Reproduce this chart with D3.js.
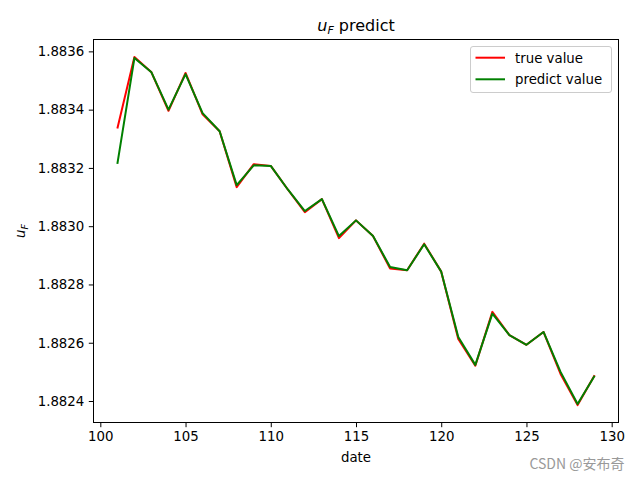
<!DOCTYPE html>
<html>
<head>
<meta charset="utf-8">
<script src="https://cdn.jsdelivr.net/npm/d3@7"></script>
<style>
  body { margin: 0; background: #fff; }
  svg { display: block; font-family: "DejaVu Sans", sans-serif; }
</style>
</head>
<body>
<div class="displayArea"></div>
<script>
// data
const dates = d3.range(101, 130);
const trueValue = [
  1.883335, 1.883581, 1.883528, 1.883396, 1.883526, 1.883384, 1.883326, 1.883134,
  1.883213, 1.883207, 1.883126, 1.883048, 1.883093, 1.882959, 1.883020, 1.882966,
  1.882855, 1.882849, 1.882940, 1.882844, 1.882613, 1.882521, 1.882706, 1.882626,
  1.882593, 1.882637, 1.882493, 1.882386, 1.882488
];
const predictValue = [
  1.883214, 1.883577, 1.883528, 1.883400, 1.883522, 1.883388, 1.883326, 1.883141,
  1.883209, 1.883207, 1.883126, 1.883052, 1.883093, 1.882966, 1.883020, 1.882966,
  1.882860, 1.882849, 1.882938, 1.882844, 1.882620, 1.882524, 1.882700, 1.882626,
  1.882593, 1.882637, 1.882500, 1.882390, 1.882487
];
const xTicks = [100, 105, 110, 115, 120, 125, 130];
const yTicks = [1.8824, 1.8826, 1.8828, 1.8830, 1.8832, 1.8834, 1.8836];

const W = 640, H = 480;
const axLeft = 93.5, axTop = 39.5, axRight = 618.5, axBottom = 422.5;

// matplotlib style 5% padding
function padded(ext) {
  const m = (ext[1] - ext[0]) * 0.05;
  return [ext[0] - m, ext[1] + m];
}
const allY = trueValue.concat(predictValue);

const xScale = d3.scaleLinear().domain(padded(d3.extent(dates))).range([axLeft, axRight]);
const yScale = d3.scaleLinear().domain(padded(d3.extent(allY))).range([axBottom, axTop]);

const svg = d3.select(".displayArea").append("svg")
  .attr("width", W).attr("height", H);

svg.append("rect").attr("width", W).attr("height", H).attr("fill", "#fff");

const line = d3.line()
  .x((d, i) => xScale(dates[i]))
  .y(d => yScale(d));

svg.append("path").datum(trueValue)
  .attr("fill", "none").attr("stroke", "#ff0000").attr("stroke-width", 2)
  .attr("stroke-linejoin", "round").attr("d", line);
svg.append("path").datum(predictValue)
  .attr("fill", "none").attr("stroke", "#008000").attr("stroke-width", 2)
  .attr("stroke-linejoin", "round").attr("d", line);

// axes
const xAxis = svg.append("g")
  .attr("transform", `translate(0,${axBottom})`)
  .call(d3.axisBottom(xScale).tickValues(xTicks).tickSize(4.7).tickPadding(4.5).tickFormat(d3.format("d")));
const yAxis = svg.append("g")
  .attr("transform", `translate(${axLeft},0)`)
  .call(d3.axisLeft(yScale).tickValues(yTicks).tickSize(4.7).tickPadding(4.5).tickFormat(d3.format(".4f")));

[xAxis, yAxis].forEach(a => {
  a.select(".domain").remove();
  a.selectAll("line").attr("stroke", "#000").attr("stroke-width", 1);
  a.selectAll("text").attr("fill", "#000")
    .style("font-family", "DejaVu Sans").style("font-size", "13.33px");
});

// frame
svg.append("rect")
  .attr("x", axLeft).attr("y", axTop)
  .attr("width", axRight - axLeft).attr("height", axBottom - axTop)
  .attr("fill", "none").attr("stroke", "#000").attr("stroke-width", 1);

// title
const title = svg.append("text")
  .attr("x", (axLeft + axRight) / 2).attr("y", 31)
  .attr("text-anchor", "middle")
  .style("font-size", "16px");
title.append("tspan").attr("font-style", "italic").text("u");
title.append("tspan").attr("font-style", "italic").attr("dy", 3).style("font-size", "11px").text("F");
title.append("tspan").attr("dy", -3).text(" predict");

// axis labels
svg.append("text")
  .attr("x", (axLeft + axRight) / 2).attr("y", 462)
  .attr("text-anchor", "middle")
  .style("font-size", "13.33px")
  .text("date");

const yl = svg.append("text")
  .attr("transform", `translate(25,231) rotate(-90)`)
  .attr("text-anchor", "middle")
  .style("font-size", "13.33px");
yl.append("tspan").attr("font-style", "italic").text("u");
yl.append("tspan").attr("font-style", "italic").attr("dy", 3).style("font-size", "9.5px").text("F");

// legend
const legend = svg.append("g");
legend.append("rect")
  .attr("x", 470.5).attr("y", 46.5).attr("width", 141).attr("height", 46)
  .attr("rx", 2.5)
  .attr("fill", "#fff").attr("fill-opacity", 0.8)
  .attr("stroke", "#cccccc").attr("stroke-width", 1);
const items = [["true value", "#ff0000"], ["predict value", "#008000"]];
items.forEach((it, i) => {
  const y = 57.7 + i * 21.6;
  legend.append("line")
    .attr("x1", 475.5).attr("x2", 505).attr("y1", y).attr("y2", y)
    .attr("stroke", it[1]).attr("stroke-width", 2);
  legend.append("text")
    .attr("x", 515).attr("y", y + 4.8)
    .style("font-size", "13.33px")
    .text(it[0]);
});

// watermark
svg.append("text")
  .attr("x", 624.5).attr("y", 468.5)
  .attr("text-anchor", "end")
  .attr("fill", "#999999")
  .style("font-family", "'Noto Sans CJK SC', 'DejaVu Sans', sans-serif")
  .style("font-size", "14px")
  .text("CSDN @安布奇");
</script>
</body>
</html>
